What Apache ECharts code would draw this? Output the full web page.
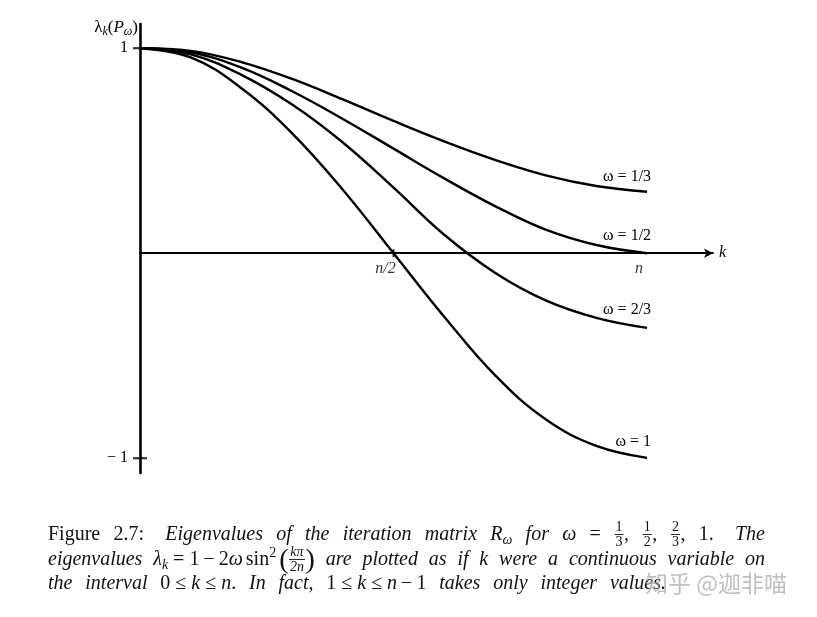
<!DOCTYPE html>
<html><head><meta charset="utf-8">
<script src="https://cdn.jsdelivr.net/npm/echarts@6/dist/echarts.min.js"></script>
<style>html,body{margin:0;padding:0;background:#fff}#c{width:817px;height:617px}</style>
</head><body><div id="c"></div>
<script>
// ---- data (k as a fraction of n) ----
const seriesNames = ['ω = 1/3', 'ω = 1/2', 'ω = 2/3', 'ω = 1'];
const kValues = [0, 0.1, 0.2, 0.3, 0.4, 0.5, 0.6, 0.7, 0.8, 0.9, 1];
const w13 = [1, 0.987, 0.932, 0.85, 0.75, 0.645, 0.545, 0.455, 0.38, 0.328, 0.30];
const w12 = [1, 0.98, 0.905, 0.79, 0.655, 0.51, 0.365, 0.23, 0.115, 0.04, 0];
const w23 = [1, 0.97, 0.87, 0.725, 0.54, 0.32, 0.09, -0.095, -0.23, -0.315, -0.364];
const w1  = [1, 0.955, 0.805, 0.585, 0.31, 0, -0.31, -0.595, -0.81, -0.94, -0.998];
const xTickValues = [0.5, 1];
const xTickLabels = ['n/2', 'n'];
const yTickValues = [1, -1];
const yTickLabels = ['1', '− 1'];

const SERIF = '"Liberation Serif", "DejaVu Serif", serif';
const chart = echarts.init(document.getElementById('c'), null, {renderer: 'canvas'});

function lineSeries(name, vs, labelDist) {
  return {type: 'line', name, data: kValues.map((k, i) => [k, vs[i]]), showSymbol: false, symbol: 'none', smooth: 0.4,
    lineStyle: {color: '#000', width: 2.4}, z: 3, animation: false, silent: true,
    endLabel: {show: true, formatter: name, align: 'right', verticalAlign: 'bottom', distance: 0,
      offset: [4, -labelDist], fontFamily: SERIF, fontSize: 16, color: '#000'}};
}

// ---- caption layout ----
const CAP = 20;
const ctx = document.createElement('canvas').getContext('2d');
function fnt(p) { return (p.it ? 'italic ' : '') + (p.size || CAP) + 'px ' + SERIF; }
function mw(t, p) { ctx.font = fnt(p); return ctx.measureText(t).width; }
const R = t => ({t});
const I = t => ({t, it: 1});
const S = {sp: 1};
const F = px => ({fs: px});
const Sub = (t, it) => ({t, it, size: 14, dy: 4});
const Sup = t => ({t, size: 14, dy: -8});
const Frac = (n, d, it) => ({frac: [n, d], it});
const Big = t => ({t, size: 28, dy: 3});
const FR = 14;
function pw(p) {
  if (p.sp) return 0;
  if (p.fs) return p.fs;
  if (p.frac) { const q = {it: p.it, size: FR}; return Math.max(mw(p.frac[0], q), mw(p.frac[1], q)) + 3; }
  return mw(p.t, p);
}
function txt(t, x, base, p, align) {
  const size = p.size || CAP;
  return {type: 'text', x, y: base - 0.3 * size, silent: true,
    style: {text: t, font: fnt(p), fill: '#111', align, verticalAlign: 'middle'}};
}
function layoutLine(pieces, x0, x1, base, out) {
  const nat = pieces.reduce((s, p) => s + pw(p), 0);
  const nsp = pieces.filter(p => p.sp).length;
  const spw = (x1 - x0 - nat) / nsp;
  let x = x0;
  for (const p of pieces) {
    if (p.sp) { x += spw; continue; }
    if (p.fs) { x += p.fs; continue; }
    const w = pw(p);
    if (p.frac) {
      const q = {it: p.it, size: FR};
      const cx = x + w / 2;
      out.push(txt(p.frac[0], cx, base - 9.5, q, 'center'));
      out.push(txt(p.frac[1], cx, base + 5.5, q, 'center'));
      out.push({type: 'line', silent: true, shape: {x1: x + 0.5, y1: base - 6.5, x2: x + w - 0.5, y2: base - 6.5},
        style: {stroke: '#111', lineWidth: 0.9}});
    } else {
      out.push(txt(p.t, x, base + (p.dy || 0), p, 'left'));
    }
    x += w;
  }
}
const L1 = [R('Figure'), S, R('2.7:'), F(8), S, I('Eigenvalues'), S, I('of'), S, I('the'), S, I('iteration'), S,
  I('matrix'), S, I('R'), Sub('ω', 1), S, I('for'), S, I('ω'), S, R('='), S, Frac('1', '3'), R(','), S,
  Frac('1', '2'), R(','), S, Frac('2', '3'), R(','), S, R('1.'), F(8), S, I('The')];
const L2 = [I('eigenvalues'), S, I('λ'), Sub('k', 1), F(5), R('='), F(5), R('1'), F(4), R('−'), F(4), R('2'),
  I('ω'), F(3), R('sin'), Sup('2'), F(3), Big('('), Frac('kπ', '2n', 1), Big(')'), S, I('are'), S, I('plotted'), S,
  I('as'), S, I('if'), S, I('k'), S, I('were'), S, I('a'), S, I('continuous'), S, I('variable'), S, I('on')];
const L3 = [I('the'), S, I('interval'), S, R('0'), F(5), R('≤'), F(5), I('k'), F(5), R('≤'), F(5), I('n'), R('.'), S,
  I('In'), S, I('fact,'), S, R('1'), F(5), R('≤'), F(5), I('k'), F(5), R('≤'), F(5), I('n'), F(4), R('−'), F(4),
  R('1'), S, I('takes'), S, I('only'), S, I('integer'), S, I('values.')];
const graphics = [];
layoutLine(L1, 48, 765, 541, graphics);
layoutLine(L2, 48, 765, 566, graphics);
layoutLine(L3, 48, 666, 590, graphics);
graphics.push({type: 'text', x: 645, y: 583, silent: true, z: 10,
  style: {text: '知乎 @迦非喵', font: '23px "Noto Sans CJK SC"', fill: 'rgba(170,170,170,0.75)',
    align: 'left', verticalAlign: 'middle'}});

const option = {
  animation: false,
  backgroundColor: '#fff',
  grid: {left: 140, right: 104, top: 24, bottom: 144, containLabel: false, outerBoundsMode: 'none'},
  xAxis: {
    type: 'value', min: 0, max: 1.13,
    splitLine: {show: false}, axisTick: {show: false}, axisLabel: {show: false},
    axisLine: {onZero: true, lineStyle: {color: '#000', width: 1.8}, symbol: ['none', 'arrow'], symbolSize: [7, 9]},
    name: 'k', nameLocation: 'end', nameGap: 6,
    nameTextStyle: {fontFamily: SERIF, fontStyle: 'italic', fontSize: 16, color: '#000'}
  },
  yAxis: {
    type: 'value', min: -1.072, max: 1.118,
    splitLine: {show: false}, axisTick: {show: false},
    axisLine: {show: true, lineStyle: {color: '#000', width: 2.6}},
    axisLabel: {customValues: yTickValues, margin: 12, fontFamily: SERIF, fontSize: 16, color: '#000',
      formatter: v => yTickLabels[yTickValues.indexOf(v)]},
    name: '{a|λ}{s|k}{a|(}{i|P}{s|ω}{a|)}', nameLocation: 'end', nameGap: -4,
    nameTextStyle: {align: 'right', verticalAlign: 'middle', padding: [0, 2, 0, 0],
      rich: {a: {fontFamily: SERIF, fontSize: 17, color: '#000', verticalAlign: 'middle', lineHeight: 20},
             i: {fontFamily: SERIF, fontStyle: 'italic', fontSize: 17, color: '#000', verticalAlign: 'middle', lineHeight: 20},
             s: {fontFamily: SERIF, fontStyle: 'italic', fontSize: 12, color: '#000', verticalAlign: 'bottom', lineHeight: 20}}}
  },
  series: [
    lineSeries(seriesNames[0], w13, 7),
    lineSeries(seriesNames[1], w12, 9),
    lineSeries(seriesNames[2], w23, 10),
    lineSeries(seriesNames[3], w1, 8),
    {type: 'scatter', data: xTickValues.slice(0, 1).map(v => [v, 0]), symbol: 'rect', symbolSize: [2, 8],
      itemStyle: {color: '#000'}, silent: true, z: 4},
    {type: 'scatter', data: xTickValues.map(v => [v, 0]), symbolSize: 0.01, silent: true, z: 4,
      itemStyle: {color: 'rgba(0,0,0,0)'},
      label: {show: true, position: 'bottom', distance: 8, offset: [-8, 0],
        formatter: p => xTickLabels[p.dataIndex], fontFamily: SERIF, fontStyle: 'italic', fontSize: 16, color: '#000'}},
    {type: 'scatter', data: yTickValues.map(v => [0, v]), symbol: 'rect', symbolSize: [14, 2.2],
      itemStyle: {color: '#000'}, silent: true, z: 4}
  ],
  graphic: graphics
};
chart.setOption(option);
</script></body></html>
